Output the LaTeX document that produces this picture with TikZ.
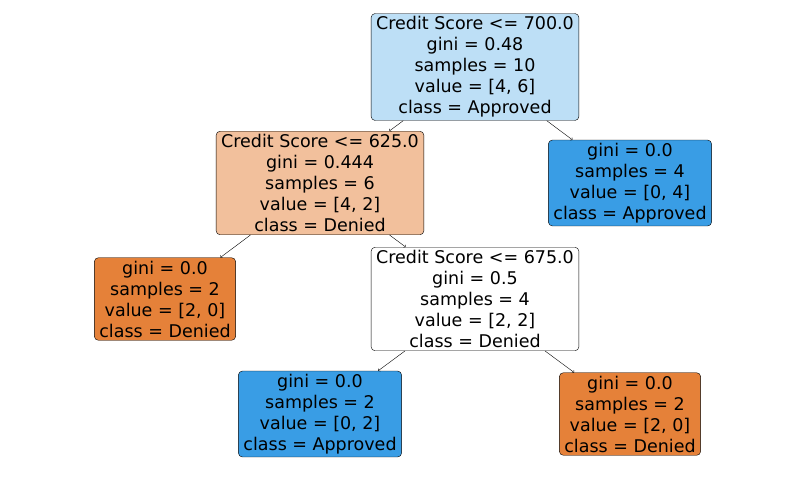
\documentclass[tikz,border=0pt]{standalone}
\usepackage{fontspec}
\setmainfont{DejaVu Sans}
\definecolor{rootblue}{HTML}{BDDFF6}
\definecolor{leafblue}{HTML}{399DE5}
\definecolor{leaforange}{HTML}{E58139}
\definecolor{lightorange}{HTML}{F2C09C}
\tikzset{%
  tree node/.style={draw=black, rounded corners=4pt, align=center,
                    inner xsep=5pt, inner ysep=3pt,
                    font=\fontsize{17.5}{21}\selectfont},
}
\begin{document}
\begin{tikzpicture}[x=1pt,y=-1pt]
  \useasboundingbox (0,0) rectangle (794,482);
  \node[tree node, fill=rootblue] (root) at (475,67)
    {Credit Score <= 700.0\\gini = 0.48\\samples = 10\\value = [4, 6]\\class = Approved};
  \node[tree node, fill=lightorange] (low) at (320,183)
    {Credit Score <= 625.0\\gini = 0.444\\samples = 6\\value = [4, 2]\\class = Denied};
  \node[tree node, fill=leafblue] (high) at (630,183)
    {gini = 0.0\\samples = 4\\value = [0, 4]\\class = Approved};
  \node[tree node, fill=leaforange] (lowest) at (165,299)
    {gini = 0.0\\samples = 2\\value = [2, 0]\\class = Denied};
  \node[tree node, fill=white] (mid) at (475,299)
    {Credit Score <= 675.0\\gini = 0.5\\samples = 4\\value = [2, 2]\\class = Denied};
  \node[tree node, fill=leafblue] (midlow) at (320,414)
    {gini = 0.0\\samples = 2\\value = [0, 2]\\class = Approved};
  \node[tree node, fill=leaforange] (midhigh) at (630,414)
    {gini = 0.0\\samples = 2\\value = [2, 0]\\class = Denied};
  \draw[->] (root) -- (low);
  \draw[->] (root) -- (high);
  \draw[->] (low) -- (lowest);
  \draw[->] (low) -- (mid);
  \draw[->] (mid) -- (midlow);
  \draw[->] (mid) -- (midhigh);
\end{tikzpicture}
\end{document}
